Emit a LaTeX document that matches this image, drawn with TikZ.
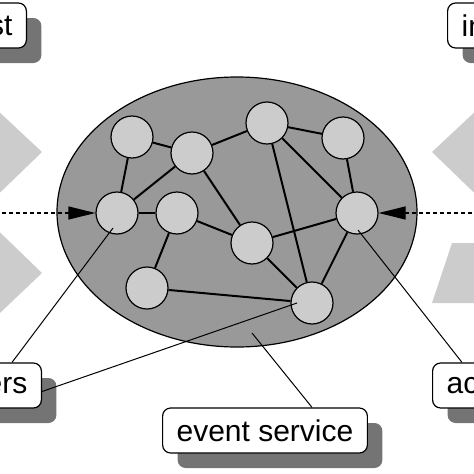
\documentclass[tikz,border=0pt]{standalone}
\usepackage{fontspec}
\setmainfont{Liberation Sans}
\usetikzlibrary{shapes.geometric,shadows,arrows.meta,calc}
\definecolor{cloud}{HTML}{999999}
\definecolor{vfill}{HTML}{CCCCCC}
\definecolor{shade}{HTML}{747474}
\tikzset{
  vtx/.style={circle,draw,fill=vfill,minimum size=42pt,inner sep=0pt,line width=1.2pt},
  link/.style={line width=2pt},
  leader/.style={line width=1pt},
  labelbox/.style={draw,fill=white,rounded corners=8pt,line width=1.2pt,
    font=\fontsize{30}{36}\selectfont,minimum height=45pt,inner xsep=14pt,inner ysep=0pt,
    general shadow={fill=shade,shadow xshift=15pt,shadow yshift=-15pt}},
  flowin/.style={line width=1.2pt,dash pattern=on 4pt off 3pt,-{Triangle[length=27pt,width=13pt]}},
  bigarrow/.style={fill=vfill,draw=none}
}
\begin{document}
\begin{tikzpicture}[x=1pt,y=-1pt]
\useasboundingbox (0,0) rectangle (474,474);
\clip (0,0) rectangle (474,474);
% big grey arrow shapes
\fill[bigarrow] (-20,94) -- (42,152) -- (-20,212) -- cycle;
\fill[bigarrow] (-20,213) -- (42,273) -- (-20,332) -- cycle;
\fill[bigarrow] (494,94) -- (432,152) -- (494,212) -- cycle;
\fill[bigarrow] (452,243) -- (480,243) -- (480,303) -- (432,303) -- cycle;
% event service cloud
\node[ellipse,draw,fill=cloud,line width=1.2pt,minimum width=360pt,minimum height=270pt,inner sep=0pt] (es) at (237,212) {};
% vertices
\node[vtx] (n1) at (132,137) {};
\node[vtx] (n2) at (192,153) {};
\node[vtx] (n3) at (267,123) {};
\node[vtx] (n4) at (343,138) {};
\node[vtx] (n5) at (117,213) {};
\node[vtx] (n6) at (177,213) {};
\node[vtx] (n7) at (252,243) {};
\node[vtx] (n8) at (357,213) {};
\node[vtx] (n9) at (147,288) {};
\node[vtx] (n10) at (312,303) {};
% links
\draw[link] (n1) -- (n2);
\draw[link] (n1) -- (n5);
\draw[link] (n2) -- (n5);
\draw[link] (n2) -- (n3);
\draw[link] (n2) -- (n7);
\draw[link] (n3) -- (n4);
\draw[link] (n3) -- (n8);
\draw[link] (n3) -- (n10);
\draw[link] (n4) -- (n8);
\draw[link] (n5) -- (n6);
\draw[link] (n6) -- (n7);
\draw[link] (n6) -- (n9);
\draw[link] (n7) -- (n8);
\draw[link] (n7) -- (n10);
\draw[link] (n8) -- (n10);
\draw[link] (n9) -- (n10);
% incoming dashed flows
\coordinate (inL) at (-5,213);
\coordinate (inR) at (479,213);
\draw[flowin] (inL) -- (n5);
\draw[flowin] (inR) -- (n8);
% labels
\node[labelbox,anchor=east] (host) at (27,25.5) {st};
\node[labelbox,anchor=west] (inb) at (447,25.5) {in};
\node[labelbox,anchor=east] (ers) at (42,385.5) {ers};
\node[labelbox,anchor=west] (ac) at (432,385.5) {ac};
\node[labelbox] (ev) at (265,430.5) {event service};
% leader lines
\coordinate (c5) at (113,228);
\coordinate (c10) at (297,303);
\coordinate (c8) at (358,230);
\coordinate (ce) at (252,333);
\draw[leader] (c5) -- ([xshift=-30pt]ers.north east);
\draw[leader] (c10) -- ([yshift=-6pt]ers.east);
\draw[leader] (c8) -- ([xshift=30pt]ac.north west);
\draw[leader] (ce) -- ([xshift=150pt]ev.north west);
\end{tikzpicture}
\end{document}
